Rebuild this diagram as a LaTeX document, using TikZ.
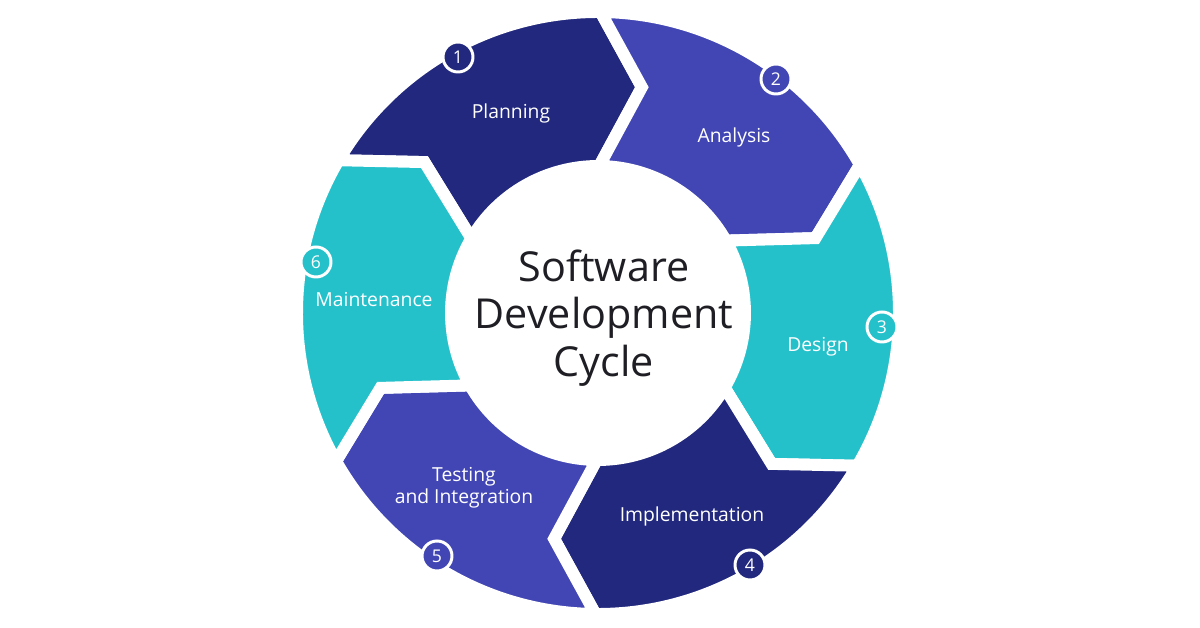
\documentclass[tikz,border=0pt]{standalone}
\usepackage{fontspec}
\setmainfont{Open Sans}
\usepackage{xcolor}
\definecolor{cycnavy}{HTML}{21287D}
\definecolor{cycindigo}{HTML}{4246B4}
\definecolor{cycteal}{HTML}{24C1CB}
\definecolor{cycink}{HTML}{1E1E24}

\begin{document}
\begin{tikzpicture}[x=0.02cm,y=0.02cm,every text node part/.style={align=center}]
\tikzstyle{every node}+=[inner sep=0pt]
\tikzstyle{stage}=[draw=white,line width=6.8pt,line join=miter]
\tikzstyle{badge}=[draw=white,line width=1.7pt]
\tikzstyle{stagetext}=[text=white,font=\fontsize{11}{12.6}\selectfont]
\tikzstyle{badgetext}=[text=white,font=\fontsize{10}{12}\selectfont]
\fill [white] (-598,313) rectangle (602,-315);
\useasboundingbox (-598,313) rectangle (602,-315);
\path [stage, fill=cycnavy] (149.5:301) arc [start angle=149.5, end angle=89.5, radius=301] -- (79:230) -- (89.5:147) arc [start angle=89.5, end angle=149.5, radius=147] -- (139:230) -- cycle;
\path [stage, fill=cycindigo] (89.5:301) arc [start angle=89.5, end angle=29.5, radius=301] -- (19:230) -- (29.5:147) arc [start angle=29.5, end angle=89.5, radius=147] -- (79:230) -- cycle;
\path [stage, fill=cycteal] (29.5:301) arc [start angle=29.5, end angle=-30.5, radius=301] -- (-41:230) -- (-30.5:147) arc [start angle=-30.5, end angle=29.5, radius=147] -- (19:230) -- cycle;
\path [stage, fill=cycnavy] (-30.5:301) arc [start angle=-30.5, end angle=-90.5, radius=301] -- (-101:230) -- (-90.5:147) arc [start angle=-90.5, end angle=-30.5, radius=147] -- (-41:230) -- cycle;
\path [stage, fill=cycindigo] (-90.5:301) arc [start angle=-90.5, end angle=-150.5, radius=301] -- (-161:230) -- (-150.5:147) arc [start angle=-150.5, end angle=-90.5, radius=147] -- (-101:230) -- cycle;
\path [stage, fill=cycteal] (-150.5:301) arc [start angle=-150.5, end angle=-210.5, radius=301] -- (-221:230) -- (-210.5:147) arc [start angle=-210.5, end angle=-150.5, radius=147] -- (-161:230) -- cycle;
\node [stagetext] (planning) at (-87,200) {Planning};
\node [stagetext] (analysis) at (136,176) {Analysis};
\node [stagetext] (design) at (220,-34) {Design};
\node [stagetext] (implementation) at (94,-203) {Implementation};
\node [stagetext] (testing) at (-134,-175) {Testing\\and Integration};
\node [stagetext] (maintenance) at (-224,13) {Maintenance};
\draw [badge, fill=cycnavy] (-140,256) circle (15);
\node [badgetext] (num1) at (-140,256) {1};
\draw [badge, fill=cycindigo] (178,234) circle (15);
\node [badgetext] (num2) at (178,234) {2};
\draw [badge, fill=cycteal] (284,-14) circle (15);
\node [badgetext] (num3) at (284,-14) {3};
\draw [badge, fill=cycnavy] (152,-252) circle (15);
\node [badgetext] (num4) at (152,-252) {4};
\draw [badge, fill=cycindigo] (-161,-243) circle (15);
\node [badgetext] (num5) at (-161,-243) {5};
\draw [badge, fill=cycteal] (-282,51) circle (15);
\node [badgetext] (num6) at (-282,51) {6};
\node [text=cycink, font=\fontsize{23.5}{27}\selectfont] (title) at (6,-5) {Software\\Development\\Cycle};
\end{tikzpicture}
\end{document}
